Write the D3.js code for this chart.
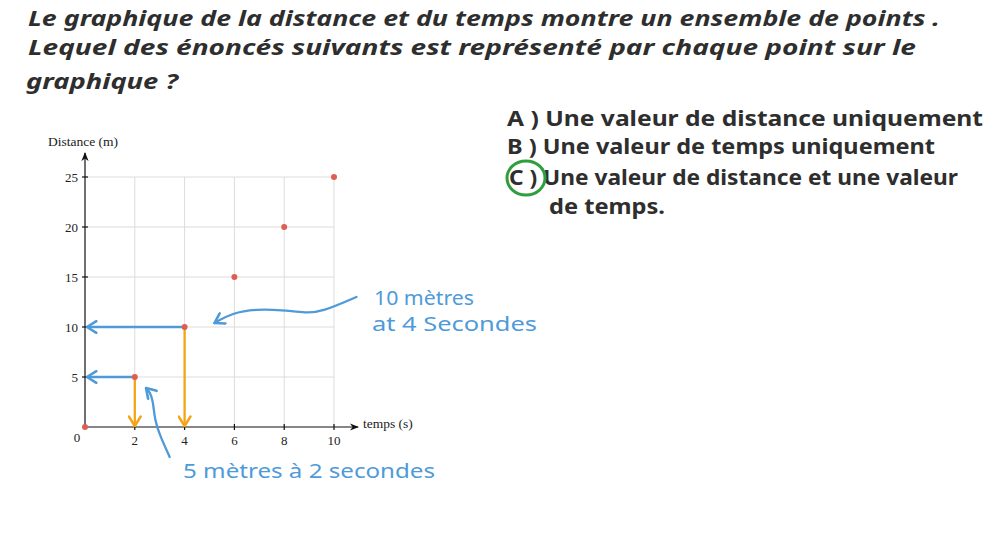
<!DOCTYPE html>
<html>
<head>
<meta charset="utf-8">
<script src="https://cdn.jsdelivr.net/npm/d3@7"></script>
<style>
  body { margin: 0; background: #fff; }
  svg { display: block; }
</style>
</head>
<body>
<div id="chart"></div>
<script>
// Data: distance (m) against time (s)
var times = [0, 2, 4, 6, 8, 10],
    distances = [0, 5, 10, 15, 20, 25],
    xTicks = [2, 4, 6, 8, 10],
    yTicks = [5, 10, 15, 20, 25];

// Points picked out by the annotations
var marked = [{t: 2, d: 5}, {t: 4, d: 10}];

// Hand-drawn curved arrows, in data units (time, distance)
var curve10 = [[10.9, 13.0], [9.5, 11.5], [8.9, 11.4], [7.9, 11.7], [6.9, 11.8], [5.9, 11.4], [5.2, 10.4]],
    curve5 = [[3.4, -3.0], [3.0, -0.8], [2.8, 0.7], [2.73, 2.7], [2.6, 3.5], [2.45, 3.9]];

var questionLines = [
  "Le graphique de la distance et du temps montre un ensemble de points .",
  "Lequel des énoncés suivants est représenté par chaque point sur le",
  "graphique ?"
];
var answerLines = [
  "A ) Une valeur de distance uniquement",
  "B ) Une valeur de temps uniquement",
  "C ) Une valeur de distance et une valeur",
  "de temps."
];

var width = 992, height = 558;

var svg = d3.select("#chart").append("svg")
    .attr("width", width)
    .attr("height", height);

var x = d3.scaleLinear().domain([0, 10]).range([85, 334]),
    y = d3.scaleLinear().domain([0, 25]).range([427, 177]);

var ink = "#2e2e2e", blue = "#4f9ad9", orange = "#f2a516", green = "#2f9e3c";

// Markers for arrow heads
var defs = svg.append("defs");
defs.append("marker")
    .attr("id", "axisHead")
    .attr("viewBox", "0 0 10 10")
    .attr("refX", 9).attr("refY", 5)
    .attr("markerWidth", 9).attr("markerHeight", 9)
    .attr("markerUnits", "userSpaceOnUse")
    .attr("orient", "auto")
  .append("path")
    .attr("d", "M0,1 L10,5 L0,9 L3,5 Z")
    .attr("fill", "#111");

function openHead(id, color) {
  defs.append("marker")
      .attr("id", id)
      .attr("viewBox", "0 0 12 12")
      .attr("refX", 11).attr("refY", 6)
      .attr("markerWidth", 14).attr("markerHeight", 14)
      .attr("markerUnits", "userSpaceOnUse")
      .attr("orient", "auto")
    .append("path")
      .attr("d", "M3,1 L11,6 L3,11")
      .attr("fill", "none")
      .attr("stroke", color)
      .attr("stroke-width", 2.2)
      .attr("stroke-linecap", "round")
      .attr("stroke-linejoin", "round");
}
openHead("blueHead", blue);
openHead("orangeHead", orange);

// Grid
var grid = svg.append("g").attr("stroke", "#dcdcdc").attr("stroke-width", 1);
grid.selectAll(".vgrid").data(xTicks).enter().append("line")
    .attr("x1", function(d) { return x(d); })
    .attr("x2", function(d) { return x(d); })
    .attr("y1", y(0)).attr("y2", y(25));
grid.selectAll(".hgrid").data(yTicks).enter().append("line")
    .attr("x1", x(0)).attr("x2", x(10))
    .attr("y1", function(d) { return y(d); })
    .attr("y2", function(d) { return y(d); });

// Axes with arrow tips
var axes = svg.append("g").attr("stroke", "#111").attr("stroke-width", 1.2);
axes.append("line")
    .attr("x1", x(0)).attr("y1", y(0))
    .attr("x2", x(0)).attr("y2", y(0) - 274)
    .attr("marker-end", "url(#axisHead)");
axes.append("line")
    .attr("x1", x(0)).attr("y1", y(0))
    .attr("x2", x(0) + 273).attr("y2", y(0))
    .attr("marker-end", "url(#axisHead)");

axes.selectAll(".xt").data(xTicks).enter().append("line")
    .attr("x1", function(d) { return x(d); })
    .attr("x2", function(d) { return x(d); })
    .attr("y1", y(0) - 3).attr("y2", y(0) + 3);
axes.selectAll(".yt").data(yTicks).enter().append("line")
    .attr("x1", x(0) - 3).attr("x2", x(0) + 3)
    .attr("y1", function(d) { return y(d); })
    .attr("y2", function(d) { return y(d); });

var serif = "'Liberation Serif', 'DejaVu Serif', serif";
var labels = svg.append("g")
    .attr("font-family", serif)
    .attr("font-size", 13)
    .attr("fill", "#222");

labels.selectAll(".xl").data(xTicks).enter().append("text")
    .attr("x", function(d) { return x(d); })
    .attr("y", y(0) + 18)
    .attr("text-anchor", "middle")
    .text(function(d) { return d; });
labels.selectAll(".yl").data(yTicks).enter().append("text")
    .attr("x", x(0) - 7)
    .attr("y", function(d) { return y(d) + 4.5; })
    .attr("text-anchor", "end")
    .text(function(d) { return d; });
labels.append("text")
    .attr("x", x(0) - 8).attr("y", y(0) + 15)
    .attr("text-anchor", "middle")
    .text("0");
labels.append("text")
    .attr("x", 48).attr("y", 146)
    .attr("font-size", 13.5)
    .text("Distance (m)");
labels.append("text")
    .attr("x", 363).attr("y", 428)
    .attr("font-size", 13.5)
    .text("temps (s)");

// Arrows from marked points to the axes
var arrows = svg.append("g").attr("fill", "none").attr("stroke-width", 2.3).attr("stroke-linecap", "round");
arrows.selectAll(".down").data(marked).enter().append("line")
    .attr("stroke", orange)
    .attr("x1", function(d) { return x(d.t); })
    .attr("x2", function(d) { return x(d.t); })
    .attr("y1", function(d) { return y(d.d); })
    .attr("y2", y(0) - 1)
    .attr("marker-end", "url(#orangeHead)");
arrows.selectAll(".left").data(marked).enter().append("line")
    .attr("stroke", blue)
    .attr("x1", function(d) { return x(d.t); })
    .attr("x2", x(0) + 2)
    .attr("y1", function(d) { return y(d.d); })
    .attr("y2", function(d) { return y(d.d); })
    .attr("marker-end", "url(#blueHead)");

var curveLine = d3.line()
    .x(function(d) { return x(d[0]); })
    .y(function(d) { return y(d[1]); })
    .curve(d3.curveBasis);
arrows.selectAll(".curve").data([curve10, curve5]).enter().append("path")
    .attr("stroke", blue)
    .attr("d", curveLine)
    .attr("marker-end", "url(#blueHead)");

// Points
svg.append("g").selectAll("circle")
    .data(times)
  .enter().append("circle")
    .attr("cx", function(d) { return x(d); })
    .attr("cy", function(d, i) { return y(distances[i]); })
    .attr("r", 3)
    .attr("fill", "#db5f52");

// Handwritten-style notes
var hand = "'Noto Sans', 'DejaVu Sans', sans-serif";
var question = svg.append("g")
    .attr("font-family", hand)
    .attr("font-style", "italic")
    .attr("font-weight", "bold")
    .attr("font-size", 22)
    .attr("fill", ink);
var qPos = [[28, 26, 912], [28, 55, 888], [26, 89, 152]];
question.selectAll("text").data(questionLines).enter().append("text")
    .attr("x", function(d, i) { return qPos[i][0]; })
    .attr("y", function(d, i) { return qPos[i][1]; })
    .attr("textLength", function(d, i) { return qPos[i][2]; })
    .attr("lengthAdjust", "spacingAndGlyphs")
    .text(function(d) { return d; });

var answers = svg.append("g")
    .attr("font-family", hand)
    .attr("font-weight", "bold")
    .attr("font-size", 21)
    .attr("fill", ink);
var aPos = [[507, 126, 476], [507, 154, 428], [509, 185, 449], [549, 214, 116]];
answers.selectAll("text").data(answerLines).enter().append("text")
    .attr("x", function(d, i) { return aPos[i][0]; })
    .attr("y", function(d, i) { return aPos[i][1]; })
    .attr("textLength", function(d, i) { return aPos[i][2]; })
    .attr("lengthAdjust", "spacingAndGlyphs")
    .text(function(d) { return d; });
svg.append("ellipse")
    .attr("cx", 526).attr("cy", 178)
    .attr("rx", 19).attr("ry", 17)
    .attr("fill", "none")
    .attr("stroke", green)
    .attr("stroke-width", 3);

var notes = svg.append("g")
    .attr("font-family", hand)
    .attr("font-size", 19)
    .attr("fill", blue);
notes.append("text").attr("x", 374).attr("y", 305)
    .attr("textLength", 100).attr("lengthAdjust", "spacingAndGlyphs")
    .text("10 mètres");
notes.append("text").attr("x", 372).attr("y", 331)
    .attr("textLength", 165).attr("lengthAdjust", "spacingAndGlyphs")
    .text("at  4  Secondes");
notes.append("text").attr("x", 183).attr("y", 478)
    .attr("textLength", 252).attr("lengthAdjust", "spacingAndGlyphs")
    .text("5 mètres  à   2  secondes");
</script>
</body>
</html>
